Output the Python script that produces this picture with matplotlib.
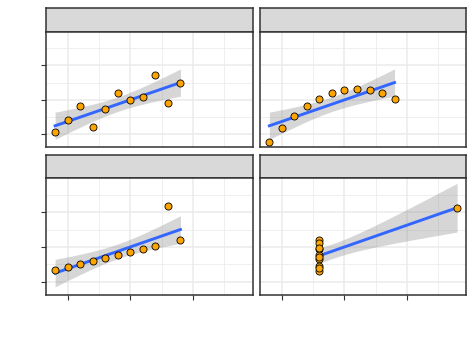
import numpy as np
import matplotlib
matplotlib.use("Agg")
import matplotlib.pyplot as plt

# Anscombe's quartet
x1 = [10, 8, 13, 9, 11, 14, 6, 4, 12, 7, 5]
y1 = [8.04, 6.95, 7.58, 8.81, 8.33, 9.96, 7.24, 4.26, 10.84, 4.82, 5.68]
y2 = [9.14, 8.14, 8.74, 8.77, 9.26, 8.10, 6.13, 3.10, 9.13, 7.26, 4.74]
y3 = [7.46, 6.77, 12.74, 7.11, 7.81, 8.84, 6.08, 5.39, 8.15, 6.42, 5.73]
x4 = [8, 8, 8, 8, 8, 8, 8, 19, 8, 8, 8]
y4 = [6.58, 5.76, 7.71, 8.84, 8.47, 7.04, 5.25, 12.50, 5.56, 7.91, 6.89]

sets = [(x1, y1), (x1, y2), (x1, y3), (x4, y4)]
x_ticks = [5, 10, 15]
y_ticks = [4, 8, 12]

T975 = 2.262  # t quantile, 9 degrees of freedom


def lm_band(x, y, n=80):
    x = np.asarray(x, float)
    y = np.asarray(y, float)
    b, a = np.polyfit(x, y, 1)
    resid = y - (a + b * x)
    s = np.sqrt(np.sum(resid ** 2) / (len(x) - 2))
    xs = np.linspace(x.min(), x.max(), n)
    fit = a + b * xs
    se = s * np.sqrt(1 / len(x) + (xs - x.mean()) ** 2 / np.sum((x - x.mean()) ** 2))
    return xs, fit, fit - T975 * se, fit + T975 * se


bands = [lm_band(x, y) for x, y in sets]

# shared scales with 5% expansion
xmin = min(min(x) for x, _ in sets)
xmax = max(max(x) for x, _ in sets)
ymin = min(min(min(y) for _, y in sets), min(b[2].min() for b in bands))
ymax = max(max(max(y) for _, y in sets), max(b[3].max() for b in bands))
xpad = (xmax - xmin) * 0.05
ypad = (ymax - ymin) * 0.05

W, H = 474, 338
fig = plt.figure(figsize=(W / 100, H / 100), dpi=100)


def frac(x0, y0, x1_, y1_):
    return [x0 / W, 1 - y1_ / H, (x1_ - x0) / W, (y1_ - y0) / H]


cols = [(45.7, 252.5), (260, 466.5)]
rows = [(8, 31.5, 147.5), (155, 178, 295)]

for i, ((x, y), (xs, fit, lo, hi)) in enumerate(zip(sets, bands)):
    r, c = divmod(i, 2)
    cx0, cx1 = cols[c]
    sy0, py0, py1 = rows[r]

    strip = fig.add_axes(frac(cx0, sy0, cx1, py0))
    strip.set_facecolor("#D9D9D9")
    strip.set_xticks([])
    strip.set_yticks([])
    for sp in strip.spines.values():
        sp.set_color("#333333")
        sp.set_linewidth(1.1)

    ax = fig.add_axes(frac(cx0, py0, cx1, py1))
    ax.set_xticks(x_ticks)
    ax.set_yticks(y_ticks)
    ax.set_xticks([2.5, 7.5, 12.5, 17.5], minor=True)
    ax.set_yticks([2, 6, 10, 14], minor=True)
    ax.set_xlim(xmin - xpad, xmax + xpad)
    ax.set_ylim(ymin - ypad, ymax + ypad)
    ax.grid(True, which="major", color="#EBEBEB", linewidth=1.1)
    ax.grid(True, which="minor", color="#EBEBEB", linewidth=0.55)
    ax.set_axisbelow(True)
    ax.tick_params(which="minor", length=0)
    ax.tick_params(which="major", length=3.8, width=0.8, color="#333333",
                   labelleft=False, labelbottom=False,
                   left=(c == 0), bottom=(r == 1))
    for sp in ax.spines.values():
        sp.set_color("#333333")
        sp.set_linewidth(1.1)

    ax.fill_between(xs, lo, hi, color="#999999", alpha=0.4, linewidth=0, zorder=2)
    ax.plot(xs, fit, color="#3366FF", linewidth=2.1, zorder=3)
    ax.scatter(x, y, s=26, facecolor="orange", edgecolor="black",
               linewidth=0.6, zorder=4)

fig.savefig("out.png", dpi=100)
